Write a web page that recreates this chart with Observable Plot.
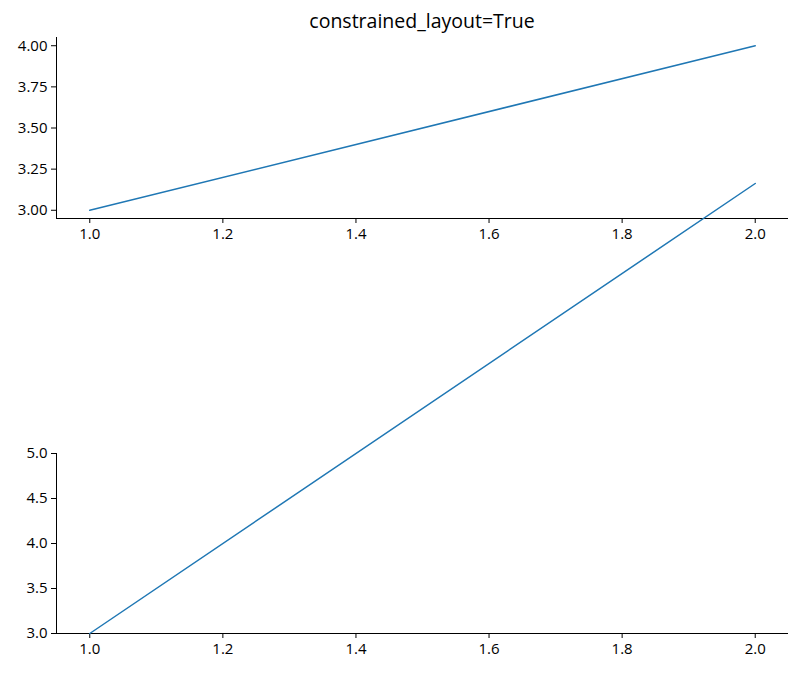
<!DOCTYPE html>
<html>
<head>
<meta charset="utf-8">
<script src="https://cdn.jsdelivr.net/npm/d3@7"></script>
<script src="https://cdn.jsdelivr.net/npm/@observablehq/plot@0.6"></script>
<style>
  html, body { margin: 0; padding: 0; background: white; }
  #wrap { position: relative; width: 803px; height: 673px; font-family: "Open Sans", sans-serif; }
  #wrap svg { position: absolute; left: 0; top: 0; }
  #title { position: absolute; left: 56px; width: 732px; top: 7px; text-align: center; font-size: 19.5px; color: black; }
</style>
</head>
<body>
<div id="wrap">
  <div id="title">constrained_layout=True</div>
</div>
<script>
const xValues = [1, 2];
const topY = [3, 4];
const bottomY = [3, 8];
const xTicks = [1.0, 1.2, 1.4, 1.6, 1.8, 2.0];
const topYTicks = [3.0, 3.25, 3.5, 3.75, 4.0];
const bottomYTicks = [3.0, 3.5, 4.0, 4.5, 5.0];
const lineColor = "#1f77b4";

const W = 803, H = 673;
const style = {fontSize: "15px", fontFamily: "Open Sans, sans-serif", background: "transparent", overflow: "visible", color: "black"};

function panel(ys, yDomain, yTicks, yFmt, mTop, mBottom) {
  const data = xValues.map((x, i) => ({x, y: ys[i]}));
  return Plot.plot({
    width: W, height: H,
    marginLeft: 56, marginRight: 15, marginTop: mTop, marginBottom: mBottom,
    style,
    x: {domain: [0.95, 2.05]},
    y: {domain: yDomain},
    marks: [
      Plot.axisX({ticks: xTicks, tickFormat: d3.format(".1f"), tickSize: 5, tickPadding: 5, label: null, fill: "black", stroke: "black", fontSize: 15}),
      Plot.axisY({ticks: yTicks, tickFormat: d3.format(yFmt), tickSize: 5, tickPadding: 4, label: null, fill: "black", stroke: "black", fontSize: 15}),
      Plot.ruleX([0.95], {stroke: "black", strokeWidth: 1}),
      Plot.ruleY([yDomain[0]], {stroke: "black", strokeWidth: 1}),
      Plot.line(data, {x: "x", y: "y", stroke: lineColor, strokeWidth: 1.5})
    ]
  });
}

const wrap = document.getElementById("wrap");
wrap.appendChild(panel(topY, [2.95, 4.05], topYTicks, ".2f", 37, 455));
wrap.appendChild(panel(bottomY, [3, 5], bottomYTicks, ".1f", 453, 40));
</script>
</body>
</html>
